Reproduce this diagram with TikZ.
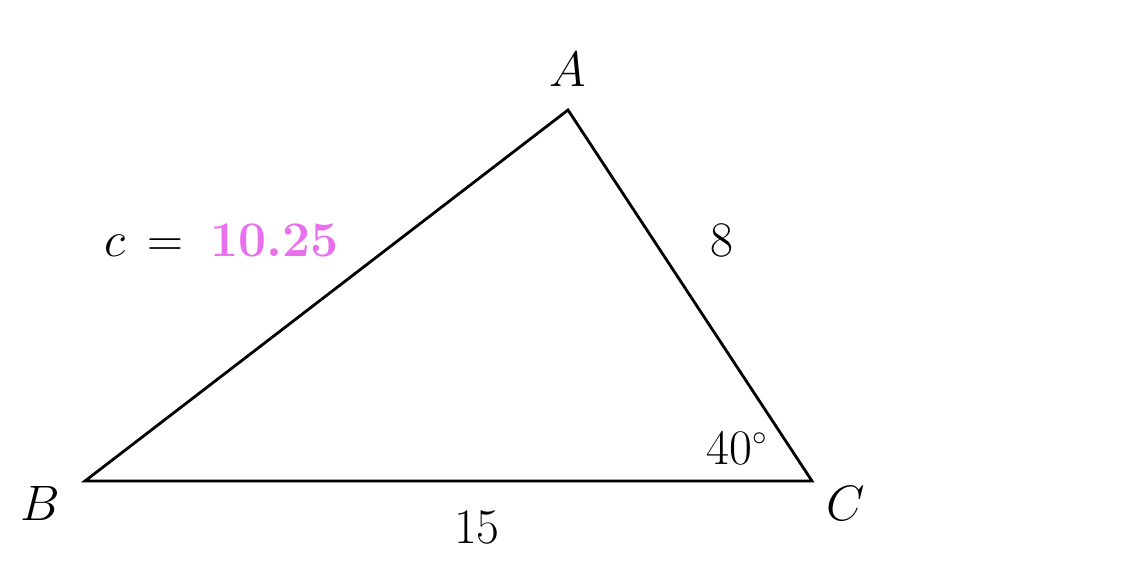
\documentclass[tikz,border=0pt]{standalone}
\usepackage{amsmath, amssymb}
\usepackage{tikz}
\usetikzlibrary{positioning}
\usepackage{xcolor}
\definecolor{valpink}{RGB}{232,112,236}

\begin{document}
\begin{tikzpicture}[
    x=0.5pt, y=-0.5pt,
    side/.style={line width=1.4pt, line join=miter},
    vlabel/.style={font=\fontsize{24}{28}\selectfont, inner sep=0pt},
    nlabel/.style={font=\fontsize{29}{33}\selectfont, inner sep=0pt}
]
    \useasboundingbox (0,0) rectangle (1124,588);
    \coordinate (A) at (568,110);
    \coordinate (B) at (85,481);
    \coordinate (C) at (812,481);

    \draw[side] (A) -- (B) -- (C) -- cycle;

    \node[vlabel] (la) at (568,70) {$A$};
    \node[vlabel] (lb) at (40,503) {$B$};
    \node[vlabel] (lc) at (846,503) {$C$};

    \node[nlabel] (sa) at (722,240) {$8$};
    \node[nlabel] (sc) at (477,527) {$15$};
    \node[nlabel] (ang) at (737,448) {$40^{\scriptscriptstyle\circ}$};
    \node[nlabel, anchor=west] (sb) at (104,240) {$c\,=\;\textcolor{valpink}{\boldsymbol{10.25}}$};
\end{tikzpicture}
\end{document}
